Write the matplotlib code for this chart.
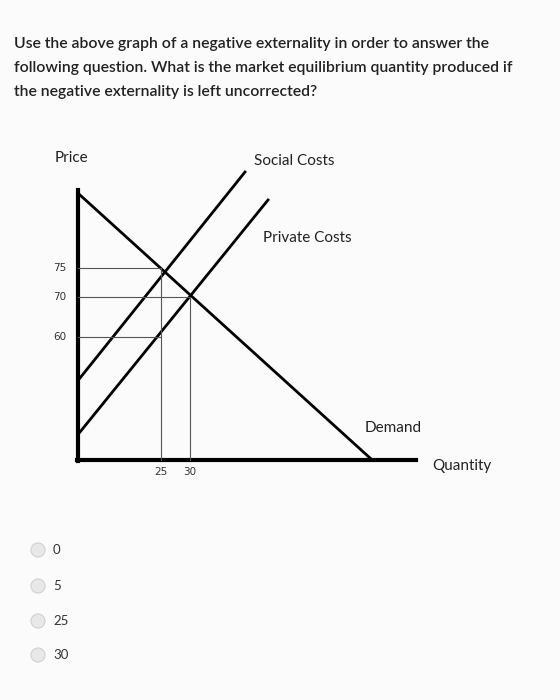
import matplotlib
matplotlib.use("Agg")
import matplotlib.pyplot as plt
from matplotlib.patches import Circle

question = ["Use the above graph of a negative externality in order to answer the",
            "following question. What is the market equilibrium quantity produced if",
            "the negative externality is left uncorrected?"]
# curves in screen coordinates (x px, y px)
demand_x = [80, 370]; demand_y = [195, 458]
social_x = [80, 245]; social_y = [378, 172]
private_x = [80, 268]; private_y = [432, 200]
price_ticks = [75, 70, 60]; price_pos = [268, 297, 337]; price_ends = [161, 190, 160]
qty_ticks = [25, 30]; qty_pos = [161, 190]; qty_tops = [268, 297]
options = ["0", "5", "25", "30"]; option_y = [550, 586, 621, 655]

fig = plt.figure(figsize=(5.6, 7), dpi=100)
fig.patch.set_facecolor("#fbfbfb")
ax = fig.add_axes([0, 0, 1, 1])
ax.set_xlim(0, 560); ax.set_ylim(700, 0); ax.axis("off")

for i, line in enumerate(question):
    ax.text(14, 44 + i * 24, line, fontsize=11.3, fontfamily="Lato", fontweight="semibold",
            color="#222", va="center")

ax.plot([78, 78], [190, 461], color="black", lw=3)
ax.plot([77, 416], [460, 460], color="black", lw=3)
for xs, ys in [(demand_x, demand_y), (social_x, social_y), (private_x, private_y)]:
    ax.plot(xs, ys, color="black", lw=2)
for t, p, e in zip(price_ticks, price_pos, price_ends):
    ax.plot([78, e], [p, p], color="#555", lw=0.8)
    ax.text(66, p, str(t), fontsize=7.5, ha="right", va="center", color="#333")
for t, p, top in zip(qty_ticks, qty_pos, qty_tops):
    ax.plot([p, p], [top, 460], color="#555", lw=0.8)
    ax.text(p, 472, str(t), fontsize=7.5, ha="center", va="center", color="#333")

lab = dict(fontsize=11, fontfamily="Lato", color="#222", va="center")
ax.text(55, 158, "Price", **lab)
ax.text(254, 161, "Social Costs", **lab)
ax.text(263, 238, "Private Costs", **lab)
ax.text(365, 428, "Demand", **lab)
ax.text(432, 466, "Quantity", **lab)

for o, y in zip(options, option_y):
    ax.add_patch(Circle((38, y), 7, facecolor="#e8e8e8", edgecolor="#d0d0d0", lw=0.8))
    ax.text(53, y, o, fontsize=9.5, fontfamily="Lato", color="#333", va="center")

fig.savefig("out.png", dpi=100, facecolor=fig.get_facecolor())
